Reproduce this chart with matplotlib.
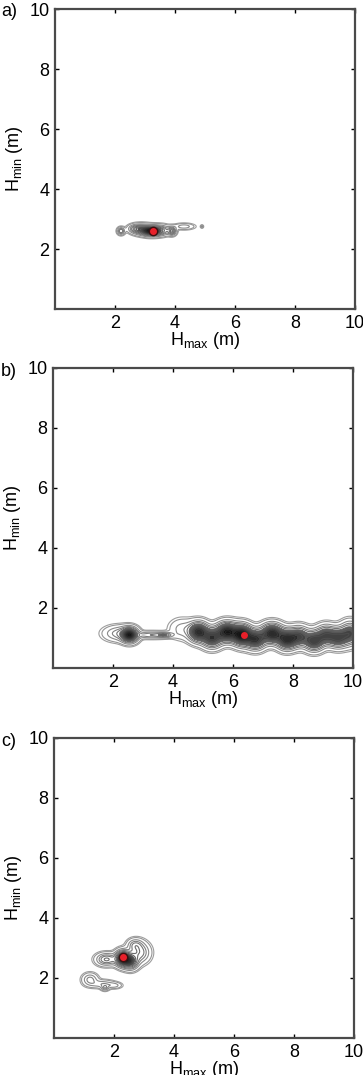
import matplotlib.pyplot as plt
import numpy as np

plt.rcParams['font.family'] = ['Liberation Sans', 'DejaVu Sans']
plt.rcParams['mathtext.fontset'] = 'custom'
plt.rcParams['mathtext.rm'] = 'Liberation Sans'
plt.rcParams['mathtext.it'] = 'Liberation Sans'

panels = ['a)', 'b)', 'c)']

# density blobs: centre x, centre y, spread x, spread y, weight
a_cx = [3.2, 2.9, 3.5, 2.2, 3.9, 4.3, 4.9, 2.7]
a_cy = [2.6, 2.65, 2.62, 2.6, 2.6, 2.75, 2.75, 2.68]
a_sx = [0.18, 0.2, 0.2, 0.07, 0.08, 0.2, 0.03, 0.15]
a_sy = [0.09, 0.1, 0.1, 0.07, 0.08, 0.06, 0.03, 0.08]
a_w = [1.0, 0.45, 0.4, 0.35, 0.45, 0.15, 0.12, 0.25]
a_best = (3.25, 2.6)

b_cx = [2.55, 2.2, 3.3, 3.7, 4.3, 4.85, 5.3, 5.8, 6.3, 6.75, 7.3, 7.8, 8.2, 8.7, 9.1, 9.5, 9.9]
b_cy = [1.1, 1.15, 1.1, 1.1, 1.3, 1.2, 1.0, 1.2, 1.1, 0.95, 1.15, 0.95, 1.05, 0.9, 1.1, 1.0, 1.15]
b_sx = [0.16, 0.3, 0.35, 0.15, 0.25, 0.2, 0.2, 0.22, 0.2, 0.2, 0.22, 0.2, 0.2, 0.2, 0.2, 0.2, 0.2]
b_sy = [0.14, 0.15, 0.07, 0.05, 0.2, 0.19, 0.19, 0.19, 0.2, 0.19, 0.19, 0.19, 0.19, 0.19, 0.19, 0.19, 0.22]
b_w = [0.9, 0.2, 0.22, 0.28, 0.12, 0.8, 0.65, 0.9, 1.0, 0.7, 0.85, 0.8, 0.55, 0.65, 0.5, 0.55, 0.5]
b_best = (6.35, 1.1)

c_cx = [2.3, 2.55, 1.75, 2.85, 2.7, 1.2, 1.6, 1.7, 2.0]
c_cy = [2.65, 2.55, 2.62, 2.85, 3.1, 1.95, 1.8, 1.68, 1.75]
c_sx = [0.15, 0.15, 0.2, 0.2, 0.15, 0.15, 0.25, 0.08, 0.15]
c_sy = [0.15, 0.15, 0.12, 0.2, 0.12, 0.12, 0.08, 0.06, 0.06]
c_w = [1.0, 0.6, 0.35, 0.3, 0.2, 0.2, 0.15, 0.2, 0.12]
c_best = (2.3, 2.7)

blobs = [(a_cx, a_cy, a_sx, a_sy, a_w, a_best),
         (b_cx, b_cy, b_sx, b_sy, b_w, b_best),
         (c_cx, c_cy, c_sx, c_sy, c_w, c_best)]

# fraction of the peak above which the contours run together into a dark fill
fill_from = [0.5, 0.3, 0.5]

lefts = [55, 53, 54]
bottoms = [309, 668, 1038]

fig = plt.figure(figsize=(3.63, 10.75), dpi=100)

xg = np.linspace(0, 10, 600)
yg = np.linspace(0, 10, 600)
X, Y = np.meshgrid(xg, yg)

for i in range(3):
	cx, cy, sx, sy, w, best = blobs[i]
	ax = fig.add_axes([lefts[i] / 363, (1075 - bottoms[i]) / 1075, 300 / 363, 300 / 1075])
	Z = np.zeros_like(X)
	for j in range(len(cx)):
		Z += w[j] * np.exp(-0.5 * (((X - cx[j]) / sx[j]) ** 2 + ((Y - cy[j]) / sy[j]) ** 2))
	zmax = Z.max()
	flev = zmax * np.linspace(fill_from[i], 1.0, 5)
	fcols = [str(g) for g in np.linspace(0.35, 0.08, 4)]
	ax.contourf(X, Y, Z, levels=flev, colors=fcols)
	levels = zmax * np.array([0.015, 0.03, 0.08, 0.14, 0.2, 0.28, 0.36, 0.44, 0.52, 0.6, 0.68, 0.76, 0.84, 0.92])
	cols = [str(g) for g in np.linspace(0.62, 0.1, len(levels))]
	ax.contour(X, Y, Z, levels=levels, colors=cols, linewidths=0.8)
	if i == 1:
		ax.plot(best[0], best[1], 'o', color='#e8202a', markersize=5, markeredgewidth=0)
	else:
		ax.plot(best[0], best[1], 'o', color='#e8202a', markersize=6,
			markeredgecolor='#3a1010', markeredgewidth=1.0)

	ax.set_xlim(0, 10)
	ax.set_ylim(0, 10)
	ax.set_xticks([2, 4, 6, 8, 10])
	ax.set_yticks([2, 4, 6, 8, 10])
	ax.tick_params(direction='in', length=3, width=1, top=True, right=True,
		labelsize=13, pad=4)
	for s in ax.spines.values():
		s.set_linewidth(1.6)
		s.set_color('#4a4a4a')
	ax.set_xlabel(r'H$_{\mathrm{max}}$ (m)', fontsize=13, labelpad=-1)
	ax.set_ylabel(r'H$_{\mathrm{min}}$ (m)', fontsize=13, labelpad=3)
	fig.text(1 / 363, 1 - (bottoms[i] - 297) / 1075, panels[i], fontsize=13, va='center', ha='left')

fig.savefig('out.png', dpi=100)
